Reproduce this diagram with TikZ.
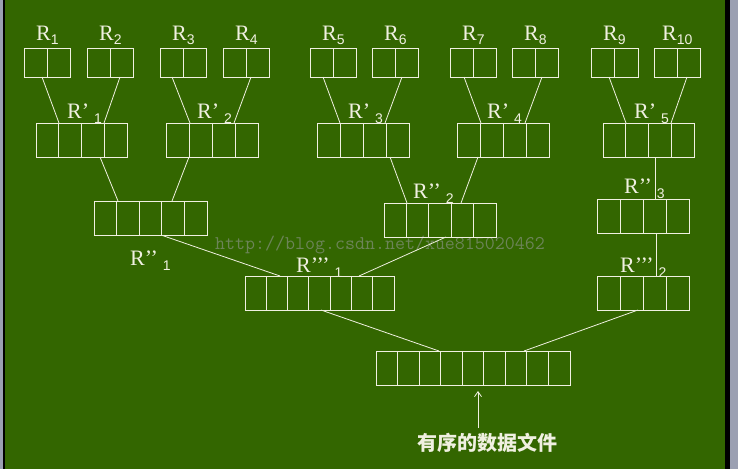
\documentclass[tikz,border=0pt]{standalone}
\usepackage{fontspec}
\setmainfont{Liberation Serif}
\newfontfamily\subfont{Liberation Sans}
\newfontfamily\cjk{Noto Sans CJK SC}
\newfontfamily\wmfont{Latin Modern Mono}
\usetikzlibrary{arrows.meta}
\definecolor{bg}{RGB}{51,102,0}
\definecolor{ln}{RGB}{240,240,225}
\definecolor{wm}{RGB}{108,132,88}
\definecolor{side}{RGB}{155,160,178}
\newcommand\subA[1]{\raisebox{-4pt}{\subfont\fontsize{14}{14}\selectfont #1}}
\newcommand\Ra[1]{R\subA{#1}}
\newcommand\Rp[2]{R#1\hspace{5pt}\raisebox{-5pt}{\subfont\fontsize{14}{14}\selectfont #2}}
\tikzset{
  conn/.style={draw=ln, line width=0.8pt},
  lbl/.style={text=ln, font=\fontsize{22}{22}\selectfont, anchor=base west, inner sep=0pt},
}
\newcommand\mkbox[6]{%
  \node[draw=ln, line width=0.8pt, inner sep=0pt, outer sep=0pt, anchor=north west,
        minimum width=#4pt, minimum height=#5pt] (#1) at (#2,#3) {};
  \pgfmathsetmacro\cw{#4/#6}
  \foreach \k in {1,...,#6}{%
    \ifnum\k<#6\relax
      \draw[conn] ([xshift={\k*\cw}]#1.north west) -- ([xshift={\k*\cw}]#1.south west);
    \fi
  }%
}
\begin{document}
\begin{tikzpicture}[x=1pt,y=-1pt]
\useasboundingbox (0,0) rectangle (738,469);
\fill[side] (0,0) rectangle (738,469);
\fill[black] (3,0) rectangle (5,469);
\fill[black] (725,0) rectangle (730,469);
\fill[bg] (5,0) rectangle (725,469);

% watermark
\node[text=wm, font=\wmfont\fontsize{19.4}{19.4}\selectfont, anchor=west, inner sep=0pt] (wmark) at (215,245) {http://blog.csdn.net/xue815020462};

% level 1
\mkbox{r1}{24}{48}{46}{29}{2}
\mkbox{r2}{87}{48}{46}{29}{2}
\mkbox{r3}{160}{48}{46}{29}{2}
\mkbox{r4}{223}{48}{46}{29}{2}
\mkbox{r5}{310}{48}{46}{29}{2}
\mkbox{r6}{372}{48}{46}{29}{2}
\mkbox{r7}{450}{48}{46}{29}{2}
\mkbox{r8}{512}{48}{46}{29}{2}
\mkbox{r9}{591}{48}{47}{29}{2}
\mkbox{r10}{654}{48}{46}{29}{2}
% level 2
\mkbox{p1}{36}{123}{91}{34}{4}
\mkbox{p2}{166}{123}{92}{34}{4}
\mkbox{p3}{317}{123}{92}{34}{4}
\mkbox{p4}{457}{123}{92}{34}{4}
\mkbox{p5}{603}{123}{91}{34}{4}
% level 3
\mkbox{q1}{94}{201}{113}{34}{5}
\mkbox{q2}{384}{203}{112}{34}{5}
\mkbox{q3}{597}{199}{92}{34}{4}
% level 4
\mkbox{t1}{245}{276}{149}{34}{7}
\mkbox{t2}{597}{276}{92}{34}{4}
% final
\mkbox{f}{376}{351}{194}{34}{9}

% labels
\node[lbl] (lr1) at (36,40) {\Ra{1}};
\node[lbl] (lr2) at (99,40) {\Ra{2}};
\node[lbl] (lr3) at (172,40) {\Ra{3}};
\node[lbl] (lr4) at (235,40) {\Ra{4}};
\node[lbl] (lr5) at (322,40) {\Ra{5}};
\node[lbl] (lr6) at (384,40) {\Ra{6}};
\node[lbl] (lr7) at (462,40) {\Ra{7}};
\node[lbl] (lr8) at (524,40) {\Ra{8}};
\node[lbl] (lr9) at (603,40) {\Ra{9}};
\node[lbl] (lr10) at (662,40) {\Ra{10}};
\node[lbl] (lp1) at (67,118) {\Rp{’}{1}};
\node[lbl] (lp2) at (197,118) {\Rp{’}{2}};
\node[lbl] (lp3) at (348,118) {\Rp{’}{3}};
\node[lbl] (lp4) at (487,118) {\Rp{’}{4}};
\node[lbl] (lp5) at (634,118) {\Rp{’}{5}};
\node[lbl] (lq1) at (130,265) {\Rp{’’}{1}};
\node[lbl] (lq2) at (413,198) {\Rp{’’}{2}};
\node[lbl] (lq3) at (624,193) {\Rp{’’}{3}};
\node[lbl] (lt1) at (296,272) {\Rp{’’’}{1}};
\node[lbl] (lt2) at (620,272) {\Rp{’’’}{2}};

% connectors level 1 -> 2
\draw[conn] ([xshift=18]r1.south west) -- ([xshift=23]p1.north west);
\draw[conn] ([xshift=33]r2.south west) -- ([xshift=68]p1.north west);
\draw[conn] ([xshift=12]r3.south west) -- ([xshift=24]p2.north west);
\draw[conn] ([xshift=28]r4.south west) -- ([xshift=68]p2.north west);
\draw[conn] ([xshift=13]r5.south west) -- ([xshift=23]p3.north west);
\draw[conn] ([xshift=30]r6.south west) -- ([xshift=68]p3.north west);
\draw[conn] ([xshift=14]r7.south west) -- ([xshift=24]p4.north west);
\draw[conn] ([xshift=30]r8.south west) -- ([xshift=68]p4.north west);
\draw[conn] ([xshift=18]r9.south west) -- ([xshift=23]p5.north west);
\draw[conn] ([xshift=33]r10.south west) -- ([xshift=68]p5.north west);
% level 2 -> 3
\draw[conn] ([xshift=64]p1.south west) -- ([xshift=24]q1.north west);
\draw[conn] ([xshift=23]p2.south west) -- ([xshift=78]q1.north west);
\draw[conn] ([xshift=73]p3.south west) -- ([xshift=23]q2.north west);
\draw[conn] ([xshift=21]p4.south west) -- ([xshift=77]q2.north west);
\draw[conn] ([xshift=52]p5.south west) -- ([xshift=58]q3.north west);
% level 3 -> 4
\draw[conn] ([xshift=67]q1.south west) -- ([xshift=35]t1.north west);
\draw[conn] ([xshift=62]q2.south west) -- ([xshift=114]t1.north west);
\draw[conn] ([xshift=59]q3.south west) -- ([xshift=59]t2.north west);
% level 4 -> final
\draw[conn] ([xshift=76]t1.south west) -- ([xshift=63]f.north west);
\draw[conn] ([xshift=41]t2.south west) -- ([xshift=148]f.north west);

% caption and arrow
\node[text=ln, font=\cjk\bfseries\fontsize{20}{20}\selectfont, inner sep=0pt] (cap) at (487,443) {有序的数据文件};
\coordinate (atail) at (478,428);
\draw[conn, -{Straight Barb[length=5pt,width=7pt]}] (atail) -- ([xshift=102,yshift=-6]f.south west);
\end{tikzpicture}
\end{document}
